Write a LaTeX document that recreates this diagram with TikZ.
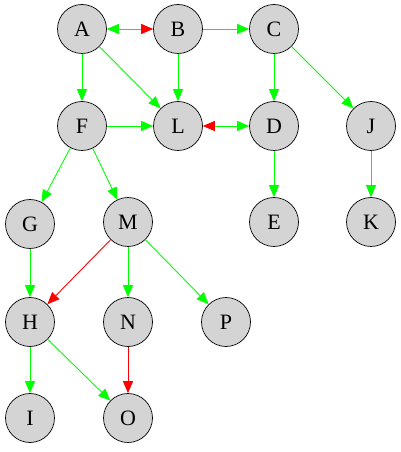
\documentclass[tikz,border=0pt]{standalone}
\usepackage{fontspec}
\setmainfont{Liberation Serif}
\usepackage{xcolor}
\definecolor{edgegreen}{rgb}{0.0,1.0,0.0}
\definecolor{edgered}{rgb}{1.0,0.0,0.0}
\usetikzlibrary{arrows.meta}

\begin{document}
\begin{tikzpicture}[
	x=0.02cm, y=-0.02cm,
	vertex/.style={circle, draw=black, fill=black!17, minimum size=0.98cm, inner sep=0pt, font=\fontsize{12.5}{14}\selectfont},
	arrG/.style={-{Triangle[length=2.4mm, width=2mm]}, draw=edgegreen, line width=0.5pt},
	arrR/.style={-{Triangle[length=2.4mm, width=2mm]}, draw=edgered, line width=0.5pt},
	arrMix/.style={{Triangle[length=2.4mm, width=2mm, fill=edgegreen, color=edgegreen]}-{Triangle[length=2.4mm, width=2mm, fill=edgered, color=edgered]}, draw=edgegreen, line width=0.5pt}
	]
	\useasboundingbox (0,0) rectangle (400,452);

	\node[vertex] (A) at (82,29) {A};
	\node[vertex] (B) at (178,29) {B};
	\node[vertex] (C) at (274,29) {C};
	\node[vertex] (F) at (82,126) {F};
	\node[vertex] (L) at (178,126) {L};
	\node[vertex] (D) at (274,126) {D};
	\node[vertex] (J) at (371,126) {J};
	\node[vertex] (G) at (30,224) {G};
	\node[vertex] (M) at (128,222) {M};
	\node[vertex] (E) at (274,222) {E};
	\node[vertex] (K) at (371,222) {K};
	\node[vertex] (H) at (30,322) {H};
	\node[vertex] (N) at (128,322) {N};
	\node[vertex] (P) at (226,322) {P};
	\node[vertex] (I) at (30,418) {I};
	\node[vertex] (O) at (128,418) {O};

	\draw[arrMix] (A) -- (B);
	\draw[arrG] (B) -- (C);
	\draw[arrG] (A) -- (F);
	\draw[arrG] (A) -- (L);
	\draw[arrG] (B) -- (L);
	\draw[arrG] (C) -- (D);
	\draw[arrG] (C) -- (J);
	\draw[arrG] (F) -- (L);
	\draw[arrMix] (D) -- (L);
	\draw[arrG] (D) -- (E);
	\draw[arrG] (J) -- (K);
	\draw[arrG] (F) -- (G);
	\draw[arrG] (F) -- (M);
	\draw[arrG] (G) -- (H);
	\draw[arrR] (M) -- (H);
	\draw[arrG] (M) -- (N);
	\draw[arrG] (M) -- (P);
	\draw[arrG] (H) -- (I);
	\draw[arrG] (H) -- (O);
	\draw[arrR] (N) -- (O);
\end{tikzpicture}
\end{document}
